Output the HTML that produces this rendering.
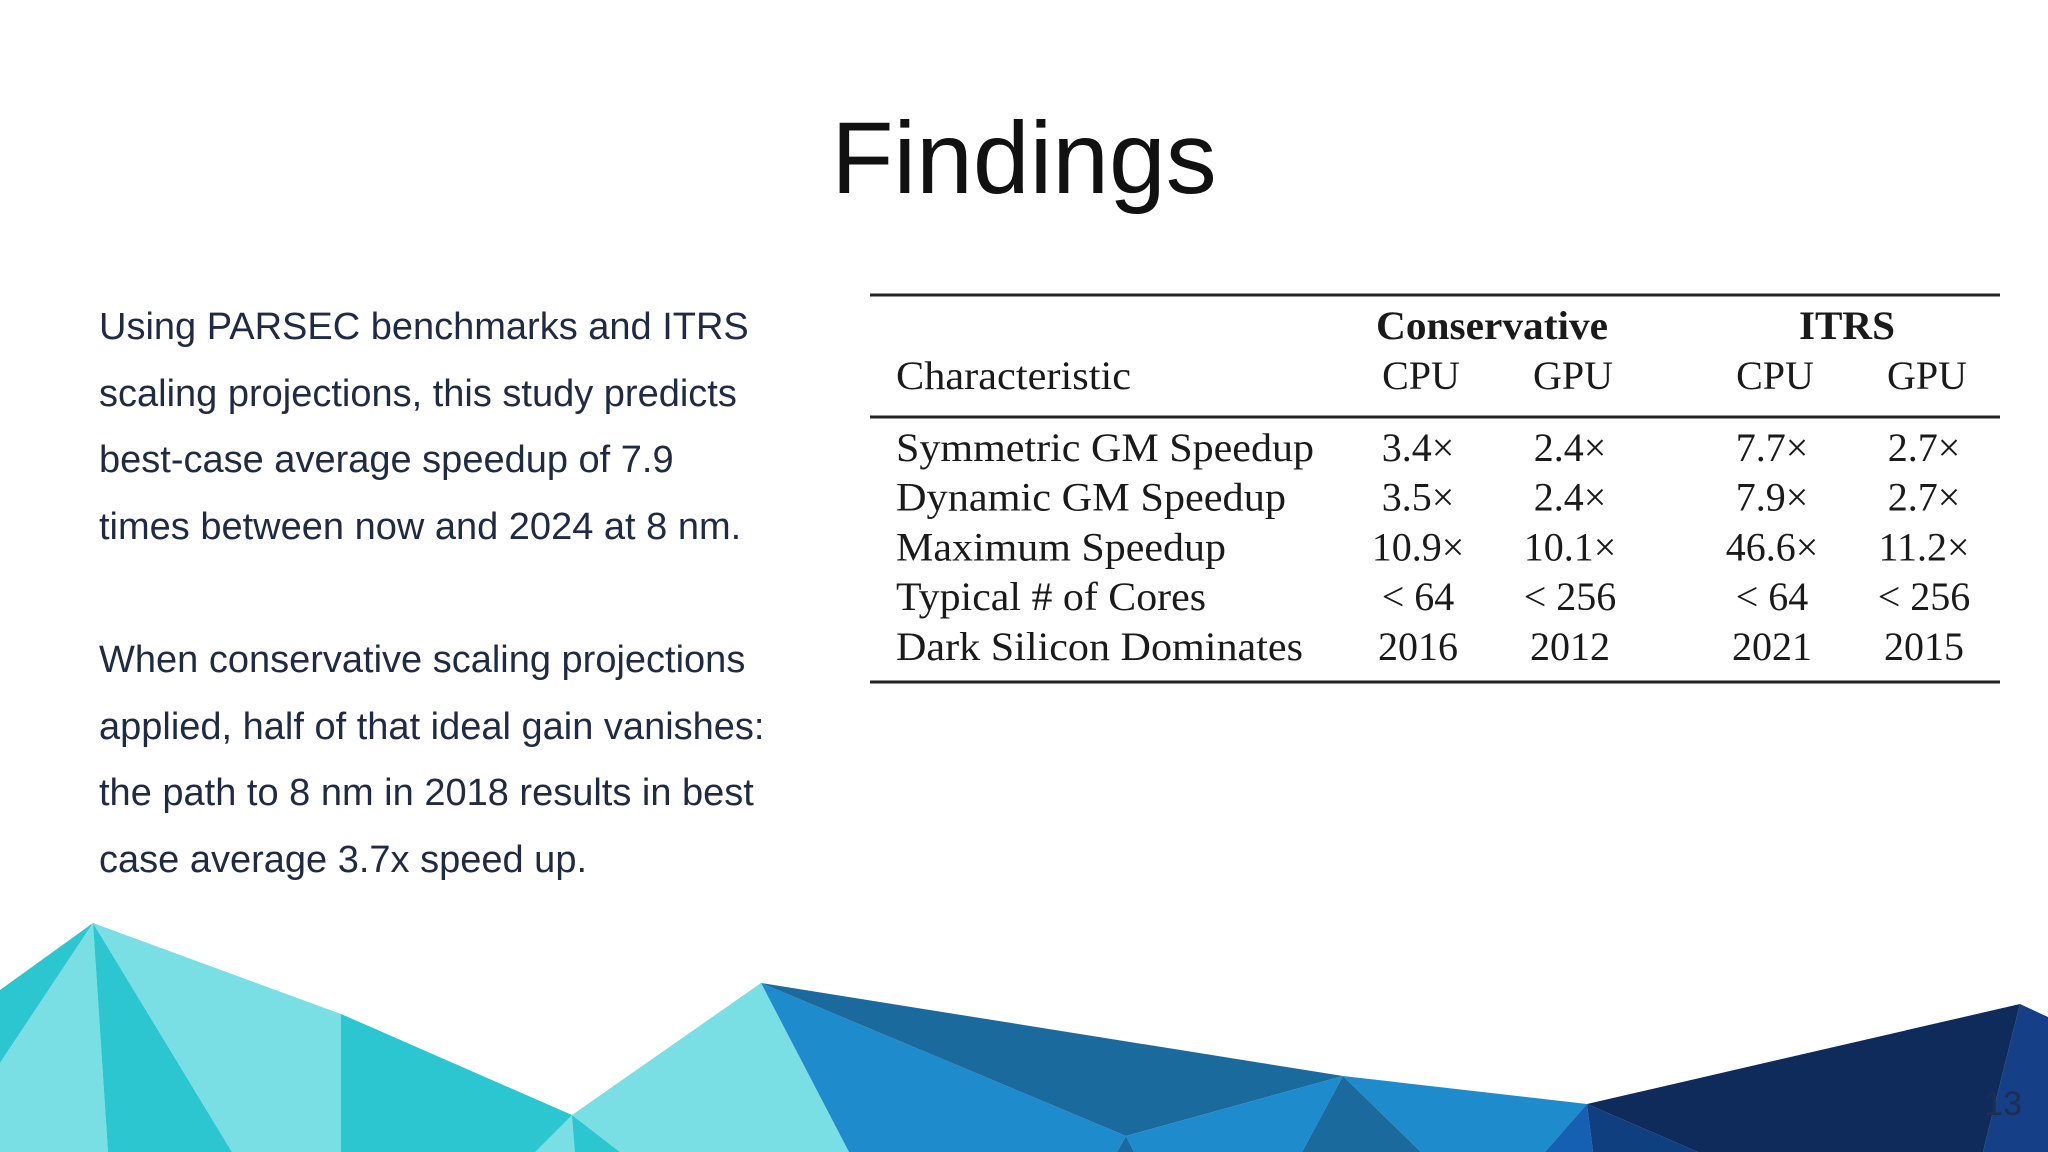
<!DOCTYPE html>
<html><head><meta charset="utf-8"><style>
html,body{margin:0;padding:0;background:#fff;}
#slide{position:relative;width:2048px;height:1152px;overflow:hidden;background:#fff;font-family:"Liberation Sans",sans-serif;}
#title{position:absolute;left:0;width:2048px;top:100px;text-align:center;font-size:102px;color:#111;}
.para{position:absolute;left:99px;font-size:38px;line-height:66.5px;color:#1f2a44;}
svg{position:absolute;left:0;top:0;}
</style></head><body>
<div id="slide">
<div id="title">Findings</div>
<div class="para" style="top:294px">Using PARSEC benchmarks and ITRS<br>scaling projections, this study predicts<br>best-case average speedup of 7.9<br>times between now and 2024 at 8 nm.</div>
<div class="para" style="top:627px">When conservative scaling projections<br>applied, half of that ideal gain vanishes:<br>the path to 8 nm in 2018 results in best<br>case average 3.7x speed up.</div>

<svg width="2048" height="1152" font-family="'Liberation Serif',serif" fill="#1a1a1a">
<line x1="870" y1="295" x2="2000" y2="295" stroke="#222" stroke-width="3"/>
<line x1="870" y1="417" x2="2000" y2="417" stroke="#222" stroke-width="3"/>
<line x1="870" y1="682" x2="2000" y2="682" stroke="#222" stroke-width="3"/>
<text x="1492" y="339" font-size="40" font-weight="bold" text-anchor="middle" textLength="232" lengthAdjust="spacingAndGlyphs">Conservative</text>
<text x="1847" y="339" font-size="40" font-weight="bold" text-anchor="middle" textLength="96" lengthAdjust="spacingAndGlyphs">ITRS</text>
<text x="896" y="389" font-size="40" textLength="235" lengthAdjust="spacingAndGlyphs">Characteristic</text>
<text x="1421" y="389" font-size="40" text-anchor="middle">CPU</text>
<text x="1573" y="389" font-size="40" text-anchor="middle">GPU</text>
<text x="1775" y="389" font-size="40" text-anchor="middle">CPU</text>
<text x="1927" y="389" font-size="40" text-anchor="middle">GPU</text>
<g id="rows"></g>
</svg>

<svg width="2048" height="1152">
<polygon points="0,990 93,923 0,1063" fill="#2bc6cf"/>
<polygon points="93,923 0,1063 0,1152 108,1152" fill="#79dfe4"/>
<polygon points="93,923 108,1152 232,1152" fill="#2bc6cf"/>
<polygon points="93,923 232,1152 341,1152 341,1014" fill="#79dfe4"/>
<polygon points="341,1014 572,1115 620,1152 341,1152" fill="#2bc6cf"/>
<polygon points="572,1115 535,1152 575,1152" fill="#79dfe4"/>
<polygon points="572,1115 761,983 849,1152 620,1152" fill="#79dfe4"/>
<polygon points="761,983 1126,1136 1117,1152 849,1152" fill="#1e8bcc"/>
<polygon points="761,983 1343,1076 1126,1136" fill="#1a6a9e"/>
<polygon points="1126,1136 1343,1076 1302,1152 1134,1152" fill="#1e8bcc"/>
<polygon points="1117,1152 1126,1136 1134,1152" fill="#1a6a9e"/>
<polygon points="1343,1076 1302,1152 1421,1152" fill="#1a6a9e"/>
<polygon points="1343,1076 1587,1104 1545,1152 1421,1152" fill="#1e8bcc"/>
<polygon points="1587,1104 1545,1152 1593,1152" fill="#1560b3"/>
<polygon points="1587,1104 1593,1152 1698,1152" fill="#103f80"/>
<polygon points="1587,1104 2020,1004 1983,1152 1698,1152" fill="#0e2b5c"/>
<polygon points="2020,1004 2048,1017 2048,1152 1983,1152" fill="#153f86"/>
<text x="2022" y="1115" font-family="'Liberation Sans',sans-serif" font-size="34" fill="#1c2f4f" text-anchor="end">13</text>
</svg>
</div>
<script>
const rowLabels = ["Symmetric GM Speedup","Dynamic GM Speedup","Maximum Speedup","Typical # of Cores","Dark Silicon Dominates"];
const consCPU = ["3.4×","3.5×","10.9×","< 64","2016"];
const consGPU = ["2.4×","2.4×","10.1×","< 256","2012"];
const itrsCPU = ["7.7×","7.9×","46.6×","< 64","2021"];
const itrsGPU = ["2.7×","2.7×","11.2×","< 256","2015"];
const labelWidths = [418,390,330,310,407];
const g = document.getElementById('rows');
const NS = 'http://www.w3.org/2000/svg';
function rowY(i){ return 461 + i*49.7; }
function txt(x,y,s,anchor){
  const t = document.createElementNS(NS,'text');
  t.setAttribute('x',x); t.setAttribute('y',y);
  t.setAttribute('font-size','40');
  t.setAttribute('text-anchor',anchor);
  t.textContent = s; g.appendChild(t); return t;
}
rowLabels.forEach((lab,i)=>{
  const y = rowY(i);
  const l = txt(896,y,lab,'start');
  l.setAttribute('textLength',labelWidths[i]);
  l.setAttribute('lengthAdjust','spacingAndGlyphs');
  
  
  const cols = [[1418,consCPU],[1570,consGPU],[1772,itrsCPU],[1924,itrsGPU]];
  cols.forEach(([x,arr])=>{
    const c = txt(x,y,arr[i],'middle');
    
    
  });
});
</script>
</body></html>
